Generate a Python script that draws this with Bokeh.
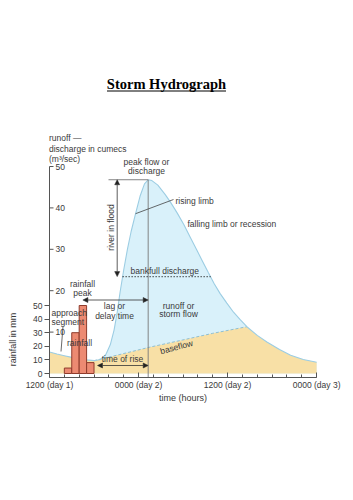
import numpy as np
from bokeh.plotting import figure
from bokeh.models import Range1d, LinearAxis, FixedTicker, Arrow, NormalHead, Label
from bokeh.core.properties import value
from bokeh.embed import file_html
from bokeh.resources import INLINE

# ---------------- data ----------------
# hours after 1200 (day 1)
time_hours = [0, 1, 2, 3, 4, 5, 6.0, 6.9, 7.6, 8.2, 8.7, 9.1, 9.5,
              10.0, 10.5, 11.0, 11.6, 12.2, 12.8, 13.3,
              13.8, 14.6, 15.6, 16.3, 17.2, 18.1, 19.0, 19.8,
              20.6, 21.4, 22.2, 23.0, 23.9, 24.8, 25.7, 26.6,
              28.0, 29.3, 31.0, 32.5, 34.2, 36.0]
discharge = [5.2, 4.7, 4.3, 3.9, 3.6, 3.3, 3.1, 3.4, 4.6, 7.0, 10.5, 14.5, 19.5,
             25.0, 30.0, 34.3, 38.6, 42.8, 45.8, 46.8,
             46.6, 45.5, 43.2, 41.4, 38.8, 36.0, 32.8, 30.0,
             27.2, 24.4, 21.7, 19.3, 17.0, 14.8, 13.0, 11.3,
             9.2, 7.6, 5.8, 4.4, 3.4, 2.7]

baseflow_hours = [0, 1, 2, 3, 4, 5, 6.0, 9.5, 13.6, 17.7, 22.0, 26.6]
baseflow = [5.2, 4.7, 4.3, 3.9, 3.6, 3.3, 3.1, 4.6, 6.4, 8.0, 9.7, 11.3]

rain_start_hours = [2, 3, 4, 5]
rainfall_mm = [4, 30, 50, 8]

bankfull_level = 23.4

runoff_ticks = [10, 20, 30, 40, 50]
rain_ticks = [0, 10, 20, 30, 40, 50]
time_ticks = [0, 12, 24, 36]
time_labels = ["1200 (day 1)", "0000 (day 2)", "1200 (day 2)", "0000 (day 3)"]

# ---------------- layout helpers (pixel -> data) ----------------
X0_PX, PX_PER_H = 49.0, 7.42
Y0_PX, PX_PER_Q = 373.0, 4.14
W, H = 353, 500
AXIS_Y_PX = 376.5


def tx(px):
    return (px - X0_PX) / PX_PER_H


def qy(py):
    return (Y0_PX - py) / PX_PER_Q


rain_factor = 50.0 / qy(305)

FONT = value("Liberation Sans")
TXT = "#3a3a3a"
FS = "8.5px"

p = figure(width=W, height=H, output_backend="svg", toolbar_location=None,
           x_range=Range1d(tx(0), tx(W)),
           y_range=Range1d(qy(H), qy(0)),
           x_axis_type=None, y_axis_type=None,
           min_border_left=0, min_border_right=0, min_border_top=0, min_border_bottom=0)
p.outline_line_color = None
p.background_fill_color = "white"
p.border_fill_color = "white"
p.extra_y_ranges = {"rain": Range1d(qy(H) * rain_factor, qy(0) * rain_factor)}

t = np.array(time_hours, dtype=float)
q = np.array(discharge, dtype=float)
bt = np.array(baseflow_hours, dtype=float)
bq = np.array(baseflow, dtype=float)

# storm flow (blue) area under the hydrograph
p.varea(x=t, y1=0, y2=q, fill_color="#d9f1fa")
# baseflow (beige) area
meet = bt[-1]
beige_t = np.concatenate([bt, t[t > meet]])
beige_q = np.concatenate([bq, q[t > meet]])
p.varea(x=beige_t, y1=0, y2=beige_q, fill_color="#f8e0a6")
p.line(bt[bt >= 6], bq[bt >= 6], line_color="#8fbfd3", line_width=1, line_dash="3 2")
p.line(t, q, line_color="#9ccde3", line_width=1.1)

# rainfall bars
rs = np.array(rain_start_hours, dtype=float)
p.quad(left=rs, right=rs + 1, bottom=0, top=rainfall_mm, y_range_name="rain",
       fill_color="#ec8a72", line_color="#8e3b2c", line_width=1)

# peak
ipk = int(np.argmax(q))
peak_t, peak_q = t[ipk], q[ipk]
rain_peak_t = rs[int(np.argmax(rainfall_mm))] + 0.5

LC = "#444444"
# vertical line at peak and horizontal peak level
p.segment(x0=[peak_t, tx(108)], y0=[qy(AXIS_Y_PX), peak_q],
          x1=[peak_t, peak_t], y1=[peak_q, peak_q], line_color="#777777", line_width=0.9)

# bankfull dotted line between rising and falling limbs
rise_t = np.interp(bankfull_level, q[6:ipk + 1], t[6:ipk + 1])
fall_t = np.interp(bankfull_level, q[ipk:][::-1], t[ipk:][::-1])
p.segment(x0=[rise_t], y0=[bankfull_level], x1=[fall_t], y1=[bankfull_level],
          line_color="#222222", line_width=1.3, line_dash="1 2")

# runoff axis (ticks and labels inside)
p.segment(x0=[0], y0=[min(runoff_ticks)], x1=[0], y1=[max(runoff_ticks)],
          line_color="#555555", line_width=1)
p.segment(x0=[0] * len(runoff_ticks), y0=runoff_ticks,
          x1=[tx(X0_PX + 4)] * len(runoff_ticks), y1=runoff_ticks,
          line_color="#555555", line_width=1)
p.text(x=[tx(55)] * len(runoff_ticks), y=runoff_ticks, text=[str(v) for v in runoff_ticks],
       text_font=FONT, text_font_size=FS, text_color=TXT,
       text_align="left", text_baseline="middle")

# pointer lines
rl_t = 11.6
rl_q = float(np.interp(rl_t, t, q))
p.segment(x0=[rl_t, tx(62.5)], y0=[rl_q, qy(326)], x1=[tx(173), tx(60.5)], y1=[qy(199), qy(351)],
          line_color=LC, line_width=0.8)


# arrows
def darrow(x0, y0, x1, y1):
    p.add_layout(Arrow(x_start=x0, y_start=y0, x_end=x1, y_end=y1,
                       start=NormalHead(size=5, fill_color="#222222", line_color="#222222", line_width=0.5),
                       end=NormalHead(size=5, fill_color="#222222", line_color="#222222", line_width=0.5),
                       line_color="#333333", line_width=0.8))


darrow(tx(116.7), peak_q, tx(116.7), bankfull_level)
darrow(rain_peak_t, qy(299.5), peak_t, qy(299.5))
darrow(tx(97), qy(365), peak_t, qy(365))

# annotation texts
left_txt = [("runoff \u2014", 48.5, 137), ("discharge in cumecs", 48.5, 148), ("(m\u00b3/sec)", 48.5, 158),
            ("rising limb", 175, 200), ("falling limb or recession", 187, 223),
            ("bankfull discharge", 130, 270), ("approach", 51, 312), ("segment", 51, 321)]
p.text(x=[tx(a[1]) for a in left_txt], y=[qy(a[2]) for a in left_txt], text=[a[0] for a in left_txt],
       text_font=FONT, text_font_size=FS, text_color=TXT, text_align="left", text_baseline="middle")

center_txt = [("peak flow or", 146, 161), ("discharge", 146, 170), ("rainfall", 82, 283), ("peak", 82, 292),
              ("lag or", 114, 305), ("delay time", 114, 315), ("runoff or", 178, 305),
              ("storm flow", 178, 313.5), ("rainfall", 79, 342), ("time of rise", 122, 358)]
p.text(x=[tx(a[1]) for a in center_txt], y=[qy(a[2]) for a in center_txt], text=[a[0] for a in center_txt],
       text_font=FONT, text_font_size=FS, text_color=TXT, text_align="center", text_baseline="middle")

p.text(x=[tx(110)], y=[qy(227)], text=["river in flood"], angle=np.pi / 2,
       text_font=FONT, text_font_size=FS, text_color=TXT, text_align="center", text_baseline="middle")
p.text(x=[tx(176)], y=[qy(346.5)], text=["baseflow"], angle=0.26,
       text_font=FONT, text_font_size=FS, text_color=TXT, text_align="center", text_baseline="middle")

# title with underline
p.text(x=[tx(166)], y=[qy(83)], text=["Storm Hydrograph"], text_font=value("Liberation Serif"),
       text_font_style="bold", text_font_size="14.5px", text_color="black",
       text_align="center", text_baseline="middle")
p.segment(x0=[tx(106.5)], y0=[qy(90.5)], x1=[tx(225.5)], y1=[qy(90.5)], line_color="black", line_width=1)

# rainfall axis (at t = 0) and time axis (just below zero flow)
rain_axis = LinearAxis(y_range_name="rain", bounds=(0, 50), ticker=FixedTicker(ticks=rain_ticks),
                       fixed_location=0)
time_axis = LinearAxis(bounds=(0, 36),
                       ticker=FixedTicker(ticks=time_ticks, minor_ticks=list(range(0, 37, 2))),
                       major_label_overrides={k: v for k, v in zip(time_ticks, time_labels)},
                       fixed_location=qy(AXIS_Y_PX))
for ax in (rain_axis, time_axis):
    ax.axis_line_color = "#555555"
    ax.major_tick_line_color = "#555555"
    ax.minor_tick_line_color = "#555555"
    ax.major_label_text_font = "Liberation Sans"
    ax.major_label_text_font_size = FS
    ax.major_label_text_color = TXT

rain_axis.major_tick_out = 5
rain_axis.major_tick_in = 0
rain_axis.minor_tick_line_color = None
rain_axis.major_label_standoff = 2

time_axis.major_tick_out = 0
time_axis.major_tick_in = 5
time_axis.minor_tick_in = 3
time_axis.minor_tick_out = 0
time_axis.major_label_standoff = 3

p.add_layout(rain_axis, "left")
p.add_layout(time_axis, "below")

# axis titles placed at the middle of each axis' own extent
p.add_layout(Label(x=tx(12.5), y=(rain_ticks[0] + rain_ticks[-1]) / 2, y_range_name="rain",
                   text="rainfall in mm", angle=np.pi / 2, text_align="center", text_baseline="middle",
                   text_font="Liberation Sans", text_font_size="9px", text_color=TXT))
p.add_layout(Label(x=(time_ticks[0] + time_ticks[-1]) / 2, y=qy(397),
                   text="time (hours)", text_align="center", text_baseline="middle",
                   text_font="Liberation Sans", text_font_size="9px", text_color=TXT))

open("out.html", "w").write(file_html(p, INLINE))
